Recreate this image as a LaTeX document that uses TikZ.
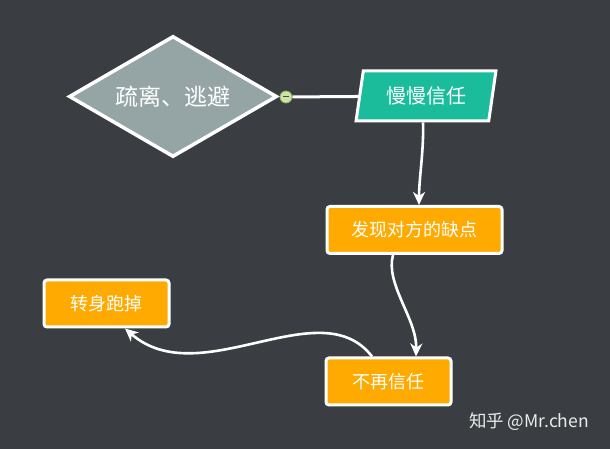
\documentclass[tikz,border=0pt]{standalone}
\usepackage{fontspec}
\usepackage{tikz}
\usetikzlibrary{shapes.geometric,arrows.meta}
\newfontfamily\cjk{Noto Sans CJK SC}
\definecolor{sfondo}{HTML}{3A3D42}
\definecolor{grigio}{HTML}{95A5A6}
\definecolor{verdeacqua}{HTML}{1ABC9C}
\definecolor{arancio}{HTML}{FFAA00}
\definecolor{bottone}{HTML}{C9E6A5}
\definecolor{bordobottone}{HTML}{8FB36A}

\begin{document}
\begin{tikzpicture}[x=1pt,y=1pt,
  passo/.style={draw=white, line width=3pt, rounded corners=3pt, fill=arancio, text=white,
    font=\cjk\fontsize{18}{18}\selectfont, minimum width=125pt, minimum height=47pt, inner sep=0pt},
  freccia/.style={draw=white, line width=2.6pt, -{Stealth[length=13pt,width=12pt,inset=4pt]}}]
% sfondo
\fill[sfondo] (0,0) rectangle (610,449);
% rombo e parallelogramma
\node[diamond, aspect=1.7, draw=white, line width=3.5pt, fill=grigio, text=white, inner sep=0pt,
  minimum width=208pt, minimum height=121pt, font=\cjk\fontsize{23}{23}\selectfont] (avoid) at (173,352.5) {疏离、逃避};
\node[circle, draw=bordobottone, line width=0.8pt, fill=bottone, minimum size=12pt, inner sep=0pt] (toggle) at (286,352) {};
\draw[black!70, line width=1pt] ([xshift=-3pt]toggle.center) -- ([xshift=3pt]toggle.center);
\node[trapezium, trapezium left angle=76, trapezium right angle=104, trapezium stretches=true,
  draw=white, line width=3pt, fill=verdeacqua, text=white, inner sep=0pt,
  minimum width=140pt, minimum height=50pt, font=\cjk\fontsize{20}{20}\selectfont] (trust) at (426,353) {慢慢信任};
\draw[white, line width=3pt] (toggle) -- (trust);
% passi
\node[passo, minimum width=175pt] (flaw) at (414.5,219) {发现对方的缺点};
\node[passo] (distrust) at (388.5,67.5) {不再信任};
\node[passo] (runaway) at (106.5,145.5) {转身跑掉};
% frecce
\draw[freccia] ([xshift=-3pt]trust.south) .. controls (424,300) and (419,270) .. ([xshift=4.5pt]flaw.north);
\draw[freccia] ([xshift=-21.5pt]flaw.south) .. controls (385,165) and (417,130) .. ([xshift=27.5pt]distrust.north);
\draw[freccia] ([xshift=-16.5pt]distrust.north) .. controls (320,160) and (200,55) .. ([xshift=18.5pt]runaway.south);
% firma
\node[text=white!92!black, font=\cjk\fontsize{17.5}{17.5}\selectfont] (firma) at (529,27) {知乎 @Mr.chen};
\end{tikzpicture}
\end{document}
